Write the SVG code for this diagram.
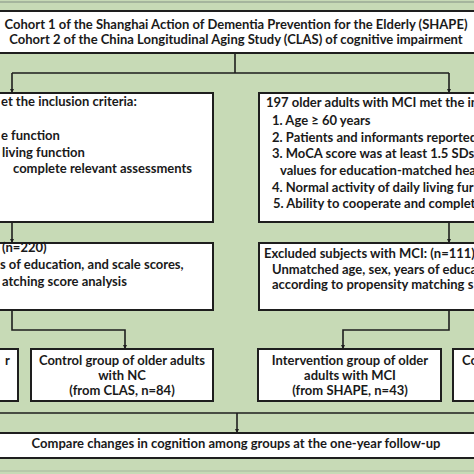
<svg xmlns="http://www.w3.org/2000/svg" width="474" height="474" viewBox="0 0 474 474">
<style>
.box{fill:#ffffff;stroke:#1e1e1e;stroke-width:2}
.ln{fill:none;stroke:#1e1e1e;stroke-width:1.6}
text{font-family:Lato,"Liberation Sans",sans-serif;font-weight:bold;font-size:13px;fill:#1a1a1a}
.c{text-anchor:middle}
</style>
<defs>
<marker id="ah" viewBox="0 0 10 10" refX="10" refY="5" markerWidth="4" markerHeight="4" orient="auto" markerUnits="userSpaceOnUse">
<path d="M0,0 L10,5 L0,10 z" fill="#1e1e1e"/>
</marker>
</defs>
<rect x="0" y="0" width="474" height="474" fill="#c7dab6"/>
<line x1="0" y1="2" x2="474" y2="2" stroke="#9aa894" stroke-width="1.5"/>
<line x1="0" y1="471" x2="474" y2="471" stroke="#b3c2a6" stroke-width="1.5"/>

<g id="connectors">
<path class="ln" d="M235,53 V73 M12,73 H449"/>
<path class="ln" d="M12,73 V93" marker-end="url(#ah)"/>
<path class="ln" d="M449,73 V93" marker-end="url(#ah)"/>
<path class="ln" d="M12,222 V243" marker-end="url(#ah)"/>
<path class="ln" d="M449,222 V243" marker-end="url(#ah)"/>
<path class="ln" d="M12,310 V330 H125 V349" marker-end="url(#ah)"/>
<path class="ln" d="M449,310 V330 H343 V349" marker-end="url(#ah)"/>
<path class="ln" d="M0,413 H474"/>
<path class="ln" d="M237,413 V433" marker-end="url(#ah)"/>
</g>

<g id="cohorts">
<rect class="box" x="-5" y="11" width="484" height="42"/>
<text class="c" x="236" y="29">Cohort 1 of the Shanghai Action of Dementia Prevention for the Elderly (SHAPE)</text>
<text class="c" x="236" y="44">Cohort 2 of the China Longitudinal Aging Study (CLAS) of cognitive impairment</text>
</g>

<g id="nc-inclusion">
<rect class="box" x="-30" y="93" width="243" height="129"/>
<text x="1" y="106">et the inclusion criteria:</text>
<text x="1" y="140">e function</text>
<text x="2" y="157">living function</text>
<text x="13" y="173">complete relevant assessments</text>
</g>

<g id="mci-inclusion">
<rect class="box" x="259" y="93" width="230" height="129"/>
<text x="266" y="107">197 older adults with MCI met the in</text>
<text x="272" y="125">1. Age ≥ 60 years</text>
<text x="272" y="142">2. Patients and informants reported</text>
<text x="272" y="158">3. MoCA score was at least 1.5 SDs</text>
<text x="280" y="175">values for education-matched hea</text>
<text x="272" y="192">4. Normal activity of daily living fur</text>
<text x="273" y="208">5. Ability to cooperate and complet</text>
</g>

<g id="nc-excluded">
<rect class="box" x="-30" y="243" width="243" height="67"/>
<text x="2" y="252">(n=220)</text>
<text x="0" y="269">s of education, and scale scores,</text>
<text x="2" y="286">atching score analysis</text>
</g>

<g id="mci-excluded">
<rect class="box" x="259" y="243" width="230" height="67"/>
<text x="264" y="258">Excluded subjects with MCI: (n=111)</text>
<text x="272" y="274">Unmatched age, sex, years of educa</text>
<text x="272" y="289">according to propensity matching s</text>
</g>

<g id="group-left">
<rect class="box" x="-170" y="349" width="188" height="52"/>
<text x="5" y="365">r</text>
</g>

<g id="control-nc">
<rect class="box" x="31" y="349" width="182" height="52"/>
<text class="c" x="122" y="365">Control group of older adults</text>
<text class="c" x="122" y="380">with NC</text>
<text class="c" x="122" y="395">(from CLAS, n=84)</text>
</g>

<g id="intervention-mci">
<rect class="box" x="258" y="349" width="183" height="52"/>
<text class="c" x="350" y="365">Intervention group of older</text>
<text class="c" x="350" y="380">adults with MCI</text>
<text class="c" x="350" y="395">(from SHAPE, n=43)</text>
</g>

<g id="group-right">
<rect class="box" x="453" y="349" width="188" height="52"/>
<text x="462" y="365">Co</text>
</g>

<g id="compare">
<rect class="box" x="-5" y="433" width="484" height="25"/>
<text class="c" x="236" y="448">Compare changes in cognition among groups at the one-year follow-up</text>
</g>
</svg>
